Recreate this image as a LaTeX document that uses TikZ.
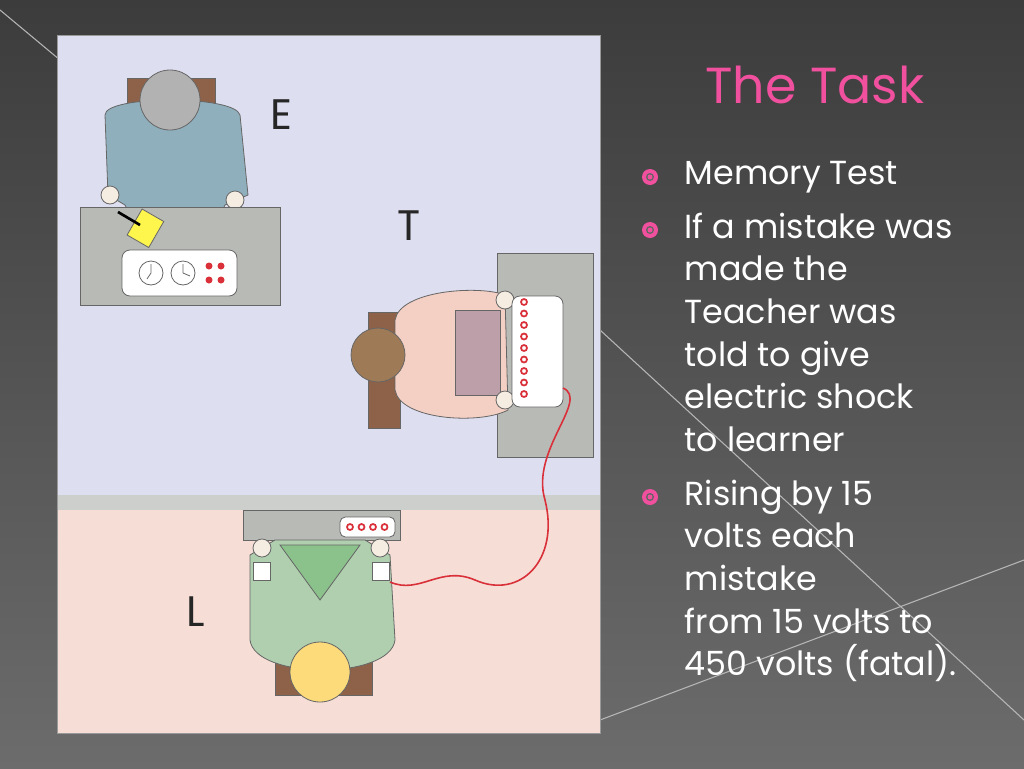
\documentclass[tikz,border=0pt]{standalone}
\usepackage{fontspec}
\setmainfont{Poppins}
\begin{document}
\begin{tikzpicture}[x=0.75pt,y=-0.75pt]
\definecolor{bgd}{HTML}{3C3C3C}\definecolor{bgl}{HTML}{6C6C6C}
\definecolor{lav}{HTML}{DDDFF1}\definecolor{pinkr}{HTML}{F6DED6}
\definecolor{desk}{HTML}{B8BAB6}\definecolor{chair}{HTML}{8E6248}
\definecolor{pk}{HTML}{F0509E}\definecolor{shockred}{HTML}{D9303A}
\tikzset{lbl/.style={font=\fontsize{32}{32}\selectfont,text=black!85},
 bul/.style={font=\fontsize{25}{32}\selectfont,text=white,anchor=west},
 skin/.style={fill=white!85!brown,draw=black!60,line width=0.6pt},
 ol/.style={draw=black!60,line width=0.6pt}}
\useasboundingbox (0,0) rectangle (1024,768);
\shade[top color=bgd,bottom color=bgl] (0,0) rectangle (1024,768);
\draw[white!50!bgl,line width=0.8pt] (0,10)--(60,60) (600,330)--(1024,720) (600,720)--(1024,560);
% panel
\fill[lav] (57,35) rectangle (600,495);
\fill[desk!70] (57,495) rectangle (600,510);
\fill[pinkr] (57,510) rectangle (600,733);
\draw[black!40] (57,35) rectangle (600,733);
% E
\fill[chair,ol] (127,78) rectangle (215,160);
\fill[fill=blue!30!cyan!25!gray!70!white,ol] (105,115) .. controls (105,95) and (235,95) .. (240,115) -- (248,195) -- (225,205) -- (220,215) -- (130,215) -- (125,205) -- (108,195) -- cycle;
\fill[skin] (110,195) circle (9) (235,200) circle (9);
\fill[fill=gray!60,ol] (170,100) circle (30);
\fill[desk,ol] (80,207) rectangle (280,305);
\fill[yellow!70,ol,rotate around={-30:(145,228)}] (133,213) rectangle (158,243);
\draw[line width=2pt] (118,212)--(140,225);
\fill[white,ol,rounded corners=6] (122,250) rectangle (237,296);
\draw[ol] (151,273) circle (12) (183,273) circle (12);
\draw[ol] (151,273)--(147,279) (151,273)--(151,264) (183,273)--(190,276) (183,273)--(183,264);
\foreach \x/\y in {209/266,221/266,209/280,221/280}\fill[shockred] (\x,\y) circle (3.5);
\node[lbl] (E) at (281,115) {E};
% T
\fill[chair,ol] (368,312) rectangle (400,428);
\fill[desk,ol] (497,253) rectangle (593,457);
\fill[fill=white!70!brown!60!pink,ol] (395,320) .. controls (400,290) and (480,285) .. (505,295) -- (508,410) .. controls (480,425) and (400,420) .. (395,390) -- cycle;
\fill[fill=purple!25!gray!60,ol] (455,310) rectangle (500,395);
\fill[skin] (505,300) circle (9) (505,400) circle (9);
\fill[fill=brown!70!black!80,ol] (378,355) circle (27);
\fill[white,ol,rounded corners=6] (512,296) rectangle (563,407);
\foreach \i in {0,...,8}\draw[shockred,line width=1.3pt] (524,{302+\i*11.5}) circle (3);
\node[lbl] (T) at (409,226) {T};
% L
\fill[chair,ol] (275,640) rectangle (372,695);
\fill[desk,ol] (243,510) rectangle (400,540);
\fill[white,ol,rounded corners=4] (340,517) rectangle (395,537);
\foreach \i in {0,...,3}\draw[shockred,line width=1.3pt] ({350+\i*11.5},527) circle (3);
\fill[fill=green!25!gray!50!white,ol] (250,555) -- (275,540) -- (365,540) -- (390,555) -- (395,640) .. controls (390,680) and (255,680) .. (250,640) -- cycle;
\fill[fill=gray!70!green!70,ol] (280,545) -- (320,600) -- (360,545) -- cycle;
\fill[white,ol] (253,562) rectangle (270,580) (372,562) rectangle (389,580);
\fill[skin] (262,548) circle (9) (380,548) circle (9);
\fill[fill=yellow!50!orange!50!white,ol] (320,672) circle (30);
\node[lbl] (L) at (196,612) {L};
% wire
\coordinate (w1) at (563,388); \coordinate (w2) at (390,582);
\draw[shockred,line width=1.2pt] (w1) .. controls (590,400) and (530,450) .. (545,500) .. controls (560,560) and (520,600) .. (475,580) .. controls (440,565) and (420,595) .. (w2);
% text
\node[font=\fontsize{38}{38}\selectfont,text=pk] (title) at (815,85) {The Task};
\foreach \y in {177,230,497}\fill[pk] (650,\y) circle (8) ;
\foreach \y in {177,230,497}\fill[bgd!80] (650,\y) circle (4);
\foreach \y in {177,230,497}\fill[pk] (650,\y) circle (2.5);
\node[bul] (b1) at (680,177) {Memory Test};
\node[bul,align=left,anchor=north west] (b2) at (680,208) {If a mistake was\\made the\\Teacher was\\told to give\\electric shock\\to learner};
\node[bul,align=left,anchor=north west] (b3) at (680,475) {Rising by 15\\volts each\\mistake\\from 15 volts to\\450 volts (fatal).};
\end{tikzpicture}
\end{document}
